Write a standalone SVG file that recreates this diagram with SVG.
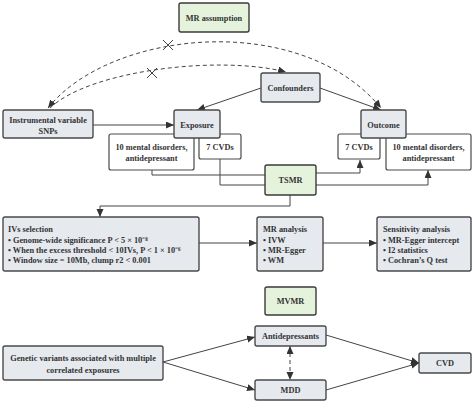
<svg xmlns="http://www.w3.org/2000/svg" width="474" height="403" viewBox="0 0 474 403">
<style>
text{font-family:"Liberation Serif","Times New Roman",serif;font-weight:bold;font-size:8.3px;fill:#333}
.c{text-anchor:middle}
.g{fill:#e6e9ee;stroke:#4a4a4a;stroke-width:1.4}
.gr{fill:#e6f3dc;stroke:#3a3a3a;stroke-width:1.4}
.w{fill:#fff;stroke:#4a4a4a;stroke-width:1.2}
.ln{fill:none;stroke:#444;stroke-width:1}
.ds{fill:none;stroke:#444;stroke-width:1;stroke-dasharray:4,3}
</style>
<defs>
<marker id="a" markerUnits="userSpaceOnUse" markerWidth="9" markerHeight="8" refX="8" refY="3.5" orient="auto-start-reverse"><path d="M0,0 L8,3.5 L0,7 z" fill="#333"/></marker>
</defs>
<rect width="474" height="403" fill="#fff"/>
<g id="connectors">
<path class="ds" d="M48,108 C110,30 300,10 381,108" marker-start="url(#a)" marker-end="url(#a)"/>
<path class="ds" d="M50,108 C90,70 220,55 286,72" marker-end="url(#a)"/>
<path class="ln" d="M163,40 L173,50 M173,40 L163,50"/>
<path class="ln" d="M147,68 L157,78 M157,68 L147,78"/>
<path class="ln" d="M93,125 L174,125" marker-end="url(#a)"/>
<path class="ln" d="M261,88 L197,110" marker-end="url(#a)"/>
<path class="ln" d="M320,88 L381,110" marker-end="url(#a)"/>
<path class="ln" d="M152,170 L152,175 L265,175"/>
<path class="ln" d="M220,159 L220,185 L265,185"/>
<path class="ln" d="M316,173 L360,173 L360,160" marker-end="url(#a)"/>
<path class="ln" d="M316,185 L428,185 L428,170" marker-end="url(#a)"/>
<path class="ln" d="M290,195 L290,206 L100,206 L100,217" marker-end="url(#a)"/>
<path class="ln" d="M199,243 L257,243" marker-end="url(#a)"/>
<path class="ln" d="M323,243 L377,243" marker-end="url(#a)"/>
<path class="ln" d="M163,362 L255,337" marker-end="url(#a)"/>
<path class="ln" d="M163,362 L255,390" marker-end="url(#a)"/>
<path class="ln" d="M326,335 L419,363" marker-end="url(#a)"/>
<path class="ln" d="M326,390 L419,363" marker-end="url(#a)"/>
<path class="ds" d="M290,346 L290,380" marker-start="url(#a)" marker-end="url(#a)"/>
</g>
<g id="mr-assumption"><rect class="gr" x="179" y="3" width="70" height="29" rx="2"/><text class="c" x="214" y="21">MR assumption</text></g>
<g id="iv"><rect class="g" x="3" y="110" width="90" height="28" rx="2"/><text class="c" x="48" y="123">Instrumental variable</text><text class="c" x="48" y="134">SNPs</text></g>
<g id="exp-mental"><rect class="w" x="109" y="134" width="85" height="36" rx="2"/><text class="c" x="151.5" y="150">10 mental disorders,</text><text class="c" x="151.5" y="161">antidepressant</text></g>
<g id="exp-cvd"><rect class="w" x="199" y="134" width="42" height="25" rx="2"/><text class="c" x="220" y="150">7 CVDs</text></g>
<g id="exposure"><rect class="g" x="174" y="110" width="46" height="28" rx="2"/><text class="c" x="197" y="128">Exposure</text></g>
<g id="confounders"><rect class="g" x="261" y="73" width="59" height="29" rx="2"/><text class="c" x="290.5" y="91">Confounders</text></g>
<g id="out-cvd"><rect class="w" x="338" y="134" width="42" height="25" rx="2"/><text class="c" x="359" y="150">7 CVDs</text></g>
<g id="out-mental"><rect class="w" x="386" y="134" width="85" height="36" rx="2"/><text class="c" x="428.5" y="150">10 mental disorders,</text><text class="c" x="428.5" y="161">antidepressant</text></g>
<g id="outcome"><rect class="g" x="361" y="110" width="45" height="28" rx="2"/><text class="c" x="383.5" y="128">Outcome</text></g>
<g id="tsmr"><rect class="gr" x="265" y="165" width="51" height="30" rx="2"/><text class="c" x="290.5" y="183">TSMR</text></g>
<g id="ivs"><rect class="g" x="3" y="217" width="196" height="54" rx="2"/><text x="8" y="232">IVs selection</text><text x="8" y="243">• Genome-wide significance P &lt; 5 × 10⁻⁸</text><text x="8" y="253">• When the excess threshold &lt; 10IVs, P &lt; 1 × 10⁻⁶</text><text x="8" y="263">• Window size = 10Mb, clump r2 &lt; 0.001</text></g>
<g id="mr-analysis"><rect class="g" x="257" y="217" width="66" height="54" rx="2"/><text x="263" y="232">MR analysis</text><text x="263" y="243">• IVW</text><text x="263" y="253">• MR-Egger</text><text x="263" y="263">• WM</text></g>
<g id="sensitivity"><rect class="g" x="377" y="217" width="94" height="54" rx="2"/><text x="383" y="232">Sensitivity analysis</text><text x="383" y="243">• MR-Egger intercept</text><text x="383" y="253">• I2 statistics</text><text x="383" y="263">• Cochran’s Q test</text></g>
<g id="mvmr"><rect class="gr" x="265" y="287" width="51" height="28" rx="2"/><text class="c" x="290.5" y="304">MVMR</text></g>
<g id="genetic"><rect class="g" x="3" y="346" width="160" height="34" rx="2"/><text class="c" x="83" y="361">Genetic variants associated with multiple</text><text class="c" x="83" y="373">correlated exposures</text></g>
<g id="antidep"><rect class="g" x="255" y="326" width="71" height="20" rx="2"/><text class="c" x="290.5" y="339">Antidepressants</text></g>
<g id="mdd"><rect class="g" x="255" y="380" width="71" height="20" rx="2"/><text class="c" x="290.5" y="393">MDD</text></g>
<g id="cvd"><rect class="g" x="419" y="353" width="52" height="20" rx="2"/><text class="c" x="445" y="366">CVD</text></g>
</svg>
